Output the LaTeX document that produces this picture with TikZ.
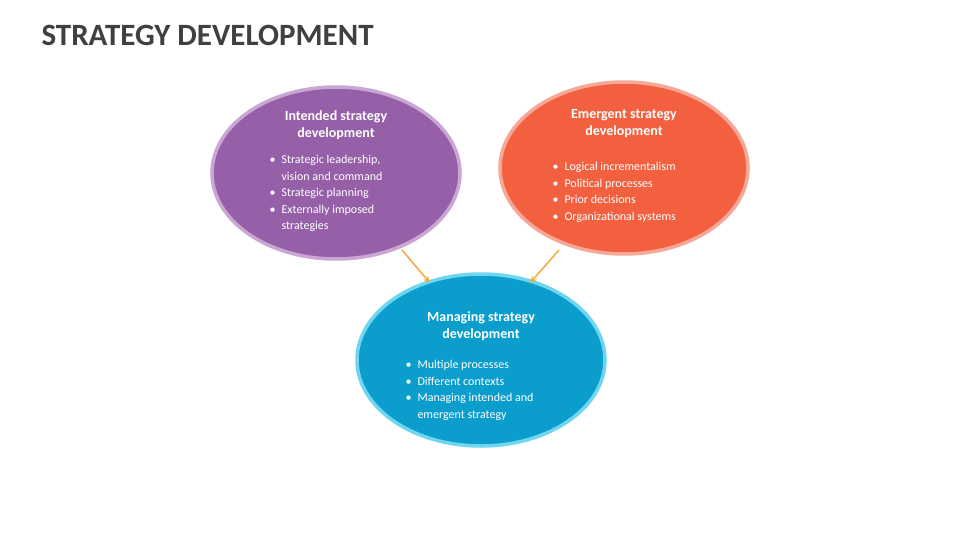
\documentclass[tikz,border=0pt]{standalone}
\usepackage{fontspec}
\setmainfont{Carlito}
\usetikzlibrary{shapes.geometric,arrows.meta}
\definecolor{purp}{HTML}{9560A8}
\definecolor{purpb}{HTML}{C9A6D3}
\definecolor{oran}{HTML}{F26040}
\definecolor{oranb}{HTML}{F6A898}
\definecolor{blu}{HTML}{0B9DCB}
\definecolor{blub}{HTML}{6FD6F2}
\definecolor{arr}{HTML}{F5A93A}
\tikzset{
  oval/.style={ellipse, minimum width=248pt, minimum height=172pt, line width=3.5pt, inner sep=0pt},
  head/.style={text=white, font=\bfseries\fontsize{14}{17}\selectfont, align=center},
  items/.style={text=white, font=\fontsize{12}{16.5}\selectfont, align=left},
  link/.style={draw=arr, line width=1.5pt, -{Stealth[length=7pt,width=6pt]}}
}
\begin{document}
\begin{tikzpicture}[x=1pt,y=-1pt]
\useasboundingbox (0,0) rectangle (960,540);
\fill[white] (0,0) rectangle (960,540);
\node[anchor=west, text=black!75, font=\bfseries\fontsize{31}{36}\selectfont] (title) at (38,35) {STRATEGY DEVELOPMENT};

\node[oval, fill=purp, draw=purpb] (a) at (336,173) {};
\node[oval, fill=oran, draw=oranb] (b) at (624,168) {};
\node[oval, fill=blu, draw=blub] (c) at (481,360) {};

\node[head] (ah) at (336,125) {Intended strategy\\development};
\node[items, anchor=north west] (ai) at (266,152) {\textbullet\enspace Strategic leadership,\\\phantom{\textbullet\enspace}vision and command\\\textbullet\enspace Strategic planning\\\textbullet\enspace Externally imposed\\\phantom{\textbullet\enspace}strategies};

\node[head] (bh) at (624,124) {Emergent strategy\\development};
\node[items, anchor=north west] (bi) at (549,159) {\textbullet\enspace Logical incrementalism\\\textbullet\enspace Political processes\\\textbullet\enspace Prior decisions\\\textbullet\enspace Organizational systems};

\node[head] (ch) at (481,326) {Managing strategy\\development};
\node[items, anchor=north west] (ci) at (402,357) {\textbullet\enspace Multiple processes\\\textbullet\enspace Different contexts\\\textbullet\enspace Managing intended and\\\phantom{\textbullet\enspace}emergent strategy};

\coordinate (a1) at (402,250);
\coordinate (a2) at (430,283);
\coordinate (b1) at (559,250);
\coordinate (b2) at (530,283);
\draw[link] (a1) -- (a2);
\draw[link] (b1) -- (b2);
\end{tikzpicture}
\end{document}
